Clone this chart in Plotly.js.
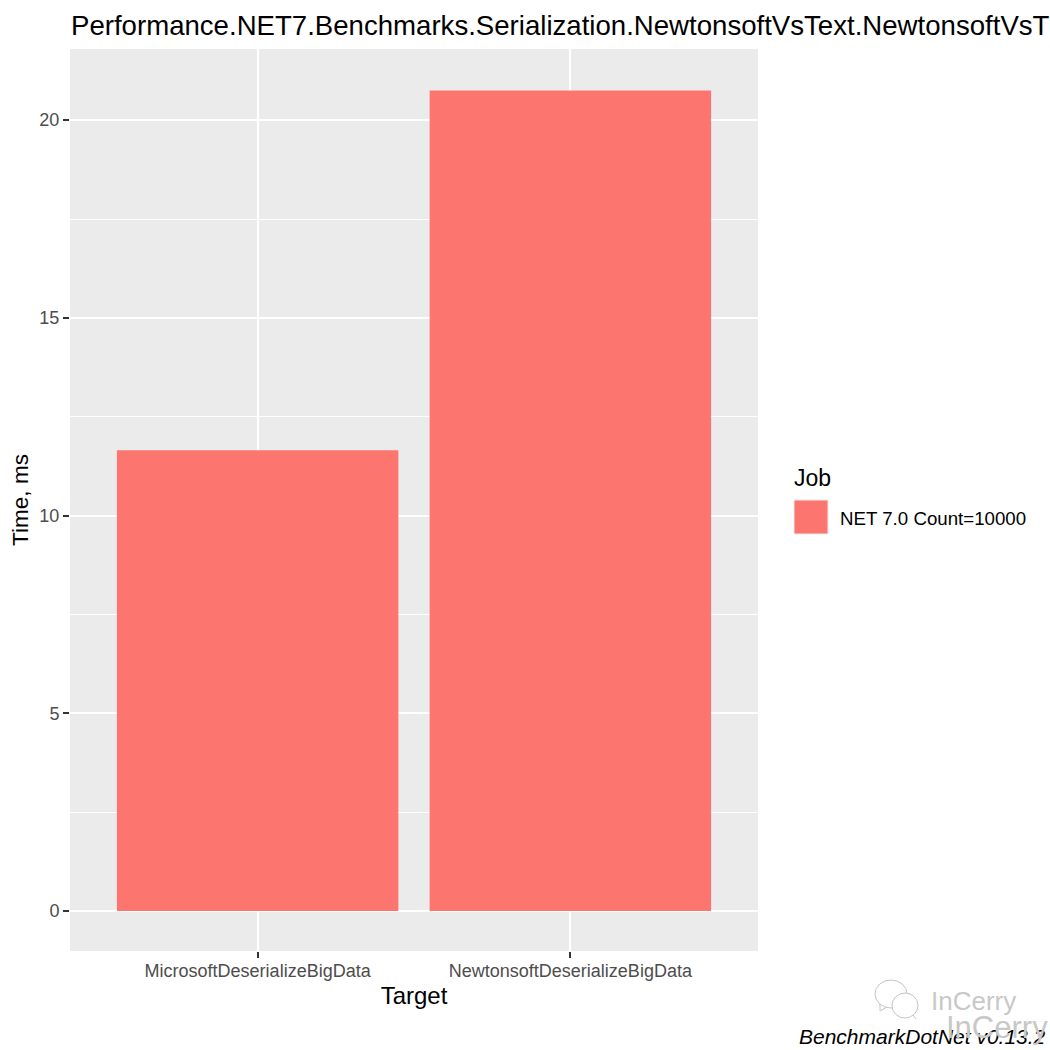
<!DOCTYPE html>
<html>
<head>
<meta charset="utf-8">
<script src="https://cdn.plot.ly/plotly-3.0.1.min.js"></script>
<style>html,body{margin:0;padding:0;background:#fff}</style>
</head>
<body>
<div id="chart" style="width:1050px;height:1050px"></div>
<script>
const categories = ["MicrosoftDeserializeBigData", "NewtonsoftDeserializeBigData"];
const timeMs = [11.65, 20.75];
const seriesName = "NET 7.0 Count=10000";
const yTicks = [0, 5, 10, 15, 20];
const chartTitle = "Performance.NET7.Benchmarks.Serialization.NewtonsoftVsText.NewtonsoftVsT";
const footer = "BenchmarkDotNet v0.13.2";
const watermark = "InCerry";
const barColor = "#FC766F";
const FONT = '"Liberation Sans", Arial, sans-serif';

const L = 70, R = 758, T = 49, B = 951;
const px = v => (v - L) / (R - L);
const py = v => (B - v) / (B - T);

function note(text, x, y, size, color, anchor, extra) {
  return Object.assign({
    text, x: px(x), y: py(y), xref: "paper", yref: "paper", showarrow: false,
    xanchor: anchor, yanchor: "middle", align: "left",
    font: {family: FONT, size, color}
  }, extra || {});
}
function ellipse(x0, y0, x1, y1) {
  return {type: "circle", xref: "paper", yref: "paper",
    x0: px(x0), x1: px(x1), y0: py(y0), y1: py(y1),
    line: {color: "#c4c4c4", width: 1}, fillcolor: "#ffffff"};
}
function tail(x0, y0, x1, y1) {
  return {type: "line", xref: "paper", yref: "paper",
    x0: px(x0), x1: px(x1), y0: py(y0), y1: py(y1),
    line: {color: "#c4c4c4", width: 1}};
}

Plotly.newPlot("chart", [{
  type: "bar", x: categories, y: timeMs, name: seriesName,
  width: 0.9, marker: {color: barColor, line: {width: 0}},
  hoverinfo: "x+y", showlegend: false
}], {
  width: 1050, height: 1050,
  margin: {l: L, r: 1050 - R, t: T, b: 1050 - B, pad: 0},
  paper_bgcolor: "#ffffff", plot_bgcolor: "#EBEBEB",
  font: {family: FONT},
  title: {text: chartTitle, xref: "container", yref: "container",
    x: 71 / 1050, xanchor: "left", y: 1 - 25 / 1050, yanchor: "middle",
    font: {family: FONT, size: 27.6, color: "#000"}},
  xaxis: {
    range: [-0.6, 1.6], type: "category", automargin: false,
    showgrid: true, gridcolor: "#fff", gridwidth: 2,
    ticks: "outside", ticklen: 6, tickwidth: 2, tickcolor: "#333",
    ticklabelstandoff: -3,
    tickfont: {family: FONT, size: 18, color: "#4D4D4D"},
    title: {text: "Target", standoff: 7, font: {family: FONT, size: 24, color: "#000"}},
    zeroline: false, showline: false
  },
  yaxis: {
    range: [-1.01, 21.8], automargin: false,
    tickvals: yTicks, ticktext: yTicks.map(String),
    showgrid: true, gridcolor: "#fff", gridwidth: 2,
    ticks: "outside", ticklen: 6, tickwidth: 2, tickcolor: "#333",
    tickfont: {family: FONT, size: 18, color: "#4D4D4D"},
    minor: {tickmode: "linear", tick0: 2.5, dtick: 5, showgrid: true, gridcolor: "#fff", gridwidth: 1, ticks: ""},
    title: {text: "Time, ms", standoff: 4, font: {family: FONT, size: 22.6, color: "#000"}},
    zeroline: false, showline: false
  },
  shapes: [
    {type: "rect", xref: "paper", yref: "paper", x0: px(794), x1: px(828), y0: py(500), y1: py(534),
     fillcolor: barColor, line: {color: "#EBEBEB", width: 1}},
    tail(880, 1004, 880, 1011),
    tail(880, 1011, 887, 1007),
    ellipse(875, 980, 907, 1008),
    tail(912, 1014, 916, 1019),
    ellipse(892, 993, 918, 1018)
  ],
  annotations: [
    note("Job", 792, 478, 23, "#000", "left"),
    note(seriesName, 838, 518, 18.7, "#000", "left"),
    note(footer, 1048, 1036, 21, "#000", "right", {font: {family: FONT, size: 21, color: "#000", style: "italic"}}),
    note(watermark, 929, 1001, 26, "#c8c8c8", "left"),
    note(watermark, 944, 1027, 31, "#c8c8c8", "left")
  ]
}, {displayModeBar: false});
</script>
</body>
</html>
